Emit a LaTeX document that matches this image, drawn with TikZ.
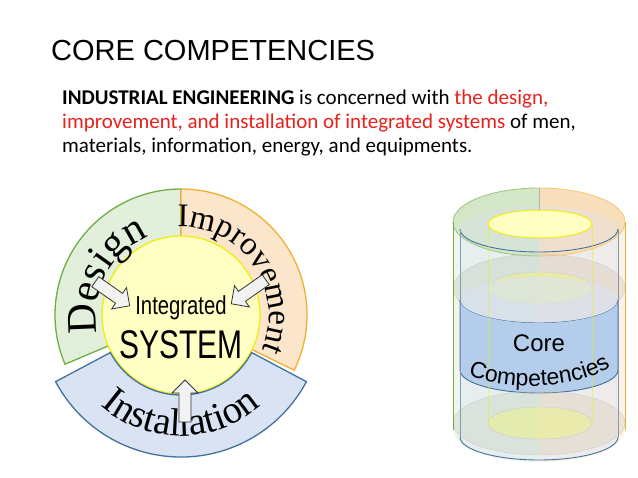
\documentclass[tikz,border=0pt]{standalone}
\usepackage{fontspec}
\setmainfont{Liberation Sans}
\newfontfamily\calib{Carlito}
\newfontfamily\serifL{Liberation Serif}
\usetikzlibrary{decorations.text,shapes.arrows}
\definecolor{gF}{HTML}{E2EFDA}\definecolor{gD}{HTML}{70AD47}
\definecolor{oF}{HTML}{FBE6CC}\definecolor{oD}{HTML}{F0B030}
\definecolor{gR}{HTML}{D3E6C8}\definecolor{oR}{HTML}{F9DEBC}
\definecolor{bF}{HTML}{DAE3F3}\definecolor{bD}{HTML}{41719C}
\definecolor{yF}{HTML}{FFFFC4}\definecolor{yD}{HTML}{EEEE10}
\definecolor{bandF}{HTML}{B4CDEA}\definecolor{rt}{HTML}{E8211C}
\tikzset{
 seg/.style={line width=1.3pt},
 blockarrow/.style={single arrow,draw=black!80,fill=gray!10,line width=0.8pt,minimum height=42pt,minimum width=26pt,inner sep=4pt,single arrow head extend=5pt},
 curvetext/.style={decorate,decoration={text along path,text align=center}},
 para/.style={anchor=base west,inner sep=0,font=\calib\fontsize{21}{21}\selectfont}
}
\begin{document}
\begin{tikzpicture}[x=1pt,y=1pt]
\useasboundingbox (0,0) rectangle (638,-478);
\fill[white] (0,0) rectangle (638,-478);
% title & paragraph
\node[anchor=base west,inner sep=0,font=\fontsize{29}{29}\selectfont] (title) at (51,-61) {CORE COMPETENCIES};
\node[para] (l1) at (62,-105) {\textbf{INDUSTRIAL ENGINEERING} is concerned with \textcolor{rt}{the design,}};
\node[para] (l2) at (62,-129) {\textcolor{rt}{improvement, and installation of integrated systems} of men,};
\node[para] (l3) at (62,-153) {materials, information, energy, and equipments.};
% left cycle
\begin{scope}[shift={(181,-315)}]
\draw[seg,draw=gD,fill=gF] (90:126) arc[start angle=90,end angle=203,radius=126] -- (203:78) arc[start angle=203,end angle=90,radius=78] -- cycle;
\draw[seg,draw=oD,fill=oF] (90:126) arc[start angle=90,end angle=-26,radius=126] -- (-26:78) arc[start angle=-26,end angle=90,radius=78] -- cycle;
\draw[seg,draw=yD,fill=yF] (0,0) circle[radius=79];
\draw[seg,draw=bD,fill=bF] (208:142) arc[start angle=208,end angle=332,radius=142] -- (332:80) arc[start angle=332,end angle=208,radius=80] -- cycle;
\path[curvetext,decoration={text={|\serifL\fontsize{42}{42}\selectfont|Design}}] (202:85) arc[start angle=202,end angle=103,radius=85];
\path[curvetext,decoration={text={|\serifL\fontsize{33}{33}\selectfont|Improvement}}] (95:88) arc[start angle=95,end angle=-26,radius=88];
\path[curvetext,decoration={text={|\serifL\fontsize{39}{39}\selectfont|Installation}}] (212:121) arc[start angle=212,end angle=328,radius=121];
\end{scope}
\node[font=\fontsize{26}{26}\selectfont,xscale=0.78] (integ) at (181,-308) {Integrated};
\node[font=\fontsize{40}{40}\selectfont,xscale=0.75] (sys) at (181,-345) {SYSTEM};
\node[blockarrow,rotate=-35] (a1) at (110,-292) {};
\node[blockarrow,rotate=215] (a2) at (251,-290) {};
\node[blockarrow,rotate=90] (a3) at (185,-404) {};
% cylinder
\fill[gF,opacity=0.5] (453,-222) -- (453,-430) arc[start angle=180,end angle=270,x radius=86,y radius=32] -- (539,-222) -- cycle;
\fill[oF,opacity=0.5] (625,-222) -- (625,-430) arc[start angle=0,end angle=-90,x radius=86,y radius=32] -- (539,-222) -- cycle;
\fill[bF,opacity=0.4] (460,-229) -- (460,-437) arc[start angle=180,end angle=360,x radius=79,y radius=23] -- (618,-229) -- cycle;
% top ring
\fill[gR] (539,-188) arc[start angle=90,end angle=270,x radius=86,y radius=34] -- cycle;
\fill[oR] (539,-188) arc[start angle=90,end angle=-90,x radius=86,y radius=34] -- cycle;
\draw[gD!70,line width=0.8pt] (539,-188) arc[start angle=90,end angle=270,x radius=86,y radius=34];
\draw[oD!70,line width=0.8pt] (539,-188) arc[start angle=90,end angle=-90,x radius=86,y radius=34];
\fill[bF,opacity=0.35] (539,-229) ellipse[x radius=79,y radius=23];
\draw[bD,line width=0.9pt] (460,-229) arc[start angle=180,end angle=360,x radius=79,y radius=23];
\draw[yD,line width=1pt,fill=yF] (540,-224) ellipse[x radius=52,y radius=14];
\draw[gray!60] (539,-188) -- (539,-210);
% middle ring
\fill[gR!70!gray,opacity=0.35] (539,-254) arc[start angle=90,end angle=270,x radius=86,y radius=34] -- cycle;
\fill[oR!70!gray,opacity=0.35] (539,-254) arc[start angle=90,end angle=-90,x radius=86,y radius=34] -- cycle;
\draw[gray!40] (539,-288) ellipse[x radius=86,y radius=34];
\fill[gF!60!yellow,opacity=0.5] (540,-288) ellipse[x radius=52,y radius=16];
\draw[gray!40] (540,-288) ellipse[x radius=52,y radius=16];
% band
\fill[bF,opacity=0.6] (539,-300) ellipse[x radius=79,y radius=23];
\draw[bD,line width=0.9pt] (460,-300) arc[start angle=180,end angle=360,x radius=79,y radius=23];
\fill[bandF] (460,-300) -- (460,-370) arc[start angle=180,end angle=360,x radius=79,y radius=23] -- (618,-300) arc[start angle=0,end angle=-180,x radius=79,y radius=23] -- cycle;
\draw[bD,line width=0.9pt] (460,-300) -- (460,-370) arc[start angle=180,end angle=360,x radius=79,y radius=23] -- (618,-300);
% bottom ring
\fill[gR!70!gray,opacity=0.3] (539,-391) arc[start angle=90,end angle=270,x radius=86,y radius=32] -- cycle;
\fill[oR!70!gray,opacity=0.3] (539,-391) arc[start angle=90,end angle=-90,x radius=86,y radius=32] -- cycle;
\draw[gray!40] (539,-423) ellipse[x radius=86,y radius=32];
\fill[gF!60!yellow,opacity=0.5] (540,-423) ellipse[x radius=52,y radius=16];
\draw[gray!40] (540,-423) ellipse[x radius=52,y radius=16];
\draw[bD,line width=0.9pt] (460,-437) arc[start angle=180,end angle=360,x radius=79,y radius=23];
\draw[bD!70] (460,-229) -- (460,-437) (618,-229) -- (618,-437);
% verticals
\draw[yD,opacity=0.5] (488,-224) -- (488,-423) (592,-224) -- (592,-423);
\draw[gD,line width=1pt] (453,-222) -- (453,-430);
\draw[oD,line width=1pt] (625,-222) -- (625,-430);
% text
\node[font=\fontsize{24}{24}\selectfont] (core) at (539,-343) {Core};
\path[curvetext,decoration={text={|\fontsize{23}{23}\selectfont|Competencies}}] (460,-372) .. controls (500,-392) and (580,-392) .. (618,-362);
\end{tikzpicture}
\end{document}
